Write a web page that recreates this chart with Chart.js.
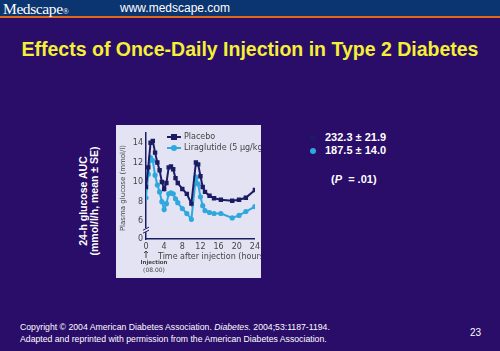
<!DOCTYPE html>
<html>
<head>
<meta charset="utf-8">
<script src="https://cdn.jsdelivr.net/npm/chart.js@4.4.1/dist/chart.umd.min.js"></script>
<style>
  body { margin: 0; width: 500px; height: 351px; background: #2a0c69; overflow: hidden; font-family: "Liberation Sans", Arial, sans-serif; }
  .topbar { position: absolute; left: 0; top: 0; width: 500px; height: 16px; background: #0b3571; }
  .orange { position: absolute; left: 0; top: 16px; width: 500px; height: 2px; background: #e06a1c; }
  .logo { position: absolute; left: 3px; top: 1px; color: #fff; font: 15.5px/15px "Liberation Serif", serif; letter-spacing: -0.4px; white-space: nowrap; }
  .logo span { font-size: 8px; }
  .url { position: absolute; left: 120px; top: 1px; color: #fff; font-size: 12px; }
  .title { position: absolute; left: 0; top: 38px; width: 500px; text-align: center; color: #f5f035; font-weight: bold; font-size: 19.5px; }
  .panel { position: absolute; left: 116px; top: 125px; width: 145px; height: 153px; background: #e3e3f3; }
  .panel canvas { position: absolute; left: 0; top: 0; }
  .stat { position: absolute; color: #fff; font-weight: bold; font-size: 11px; }
  .dot { position: absolute; width: 6px; height: 6px; border-radius: 3px; }
  .ylab { position: absolute; left: 89px; top: 201px; width: 140px; transform: translate(-50%, -50%) rotate(-90deg); color: #fff; font-weight: bold; font-size: 10.5px; line-height: 11px; text-align: center; }
  .foot { position: absolute; left: 20px; top: 322px; color: #fff; font-size: 8.7px; line-height: 11.5px; }
  .page { position: absolute; left: 470px; top: 327px; color: #fff; font-size: 10px; }
</style>
</head>
<body>
<div class="topbar"></div>
<div class="orange"></div>
<div class="logo">Medscape<span>®</span></div>
<div class="url">www.medscape.com</div>
<div class="title">Effects of Once-Daily Injection in Type 2 Diabetes</div>

<div class="ylab">24-h glucose AUC<br>(mmol/l/h, mean ± SE)</div>

<div class="panel"><canvas id="grafico" width="145" height="153"></canvas></div>

<div class="dot" style="left:310px; top:135px; background:#1c1c64;"></div>
<div class="stat" style="left:325px; top:131px;">232.3 ± 21.9</div>
<div class="dot" style="left:310px; top:148px; background:#2ea8de;"></div>
<div class="stat" style="left:325px; top:144px;">187.5 ± 14.0</div>
<div class="stat" style="left:331px; top:173px;">(<i>P</i> &nbsp;= .01)</div>

<div class="foot">Copyright © 2004 American Diabetes Association. <i>Diabetes.</i> 2004;53:1187-1194.<br>Adapted and reprinted with permission from the American Diabetes Association.</div>
<div class="page">23</div>

<script>
// Dados
const horas = [0, 0.5, 1, 1.5, 2, 2.5, 3, 3.5, 4, 4.5, 5, 5.5, 6, 6.5, 7, 8, 9, 10, 11, 11.5, 12, 12.5, 13, 14, 15, 16.5, 19, 20.5, 22, 24];
const placebo = [9.5, 11.5, 14.0, 14.2, 13.0, 12.0, 11.2, 10.0, 9.3, 9.9, 11.5, 11.6, 11.3, 10.4, 9.9, 9.3, 8.8, 7.8, 12.0, 11.8, 10.6, 9.5, 9.0, 8.6, 8.35, 8.2, 8.1, 8.2, 8.4, 9.2];
const liraglutide = [8.4, 10.8, 12.5, 12.2, 10.7, 9.7, 9.0, 8.0, 7.2, 7.8, 8.8, 8.9, 8.8, 8.3, 7.9, 7.3, 6.8, 6.2, 10.5, 9.8, 8.5, 7.6, 7.1, 6.9, 6.8, 6.8, 6.35, 6.6, 7.0, 7.5];
const yTicks = [4.2, 6, 8, 10, 12, 14];
const yTickLabels = ["0", "6", "8", "10", "12", "14"];
const xTicks = [0, 4, 8, 12, 16, 20, 24];

const corPlacebo = "#1c1c64";
const corLira = "#2ea8de";
const corTexto = "#444";

function pontos(ys) {
  return horas.map((h, i) => ({ x: h, y: ys[i] }));
}

// textos extra do gráfico: legenda, títulos dos eixos, quebra, injeção
const extras = {
  id: "extras",
  afterDraw(chart) {
    const c = chart.ctx;
    const x = chart.scales.x, y = chart.scales.y;
    c.save();
    // legenda
    [[corPlacebo, "Placebo", 12, "rect"], [corLira, "Liraglutide (5 μg/kg OD)", 23, "circle"]].forEach(l => {
      c.strokeStyle = l[0]; c.fillStyle = l[0]; c.lineWidth = 2;
      c.beginPath(); c.moveTo(51, l[2]); c.lineTo(65, l[2]); c.stroke();
      if (l[3] == "rect") c.fillRect(55, l[2] - 3, 6, 6);
      else { c.beginPath(); c.arc(58, l[2], 3, 0, Math.PI * 2); c.fill(); }
      c.fillStyle = corTexto; c.font = "8px 'DejaVu Sans'"; c.textBaseline = "middle";
      c.fillText(l[1], 68, l[2]);
    });
    // quebra do eixo y
    const xb = x.left, yb = y.getPixelForValue(5.1);
    c.strokeStyle = "#e3e3f3"; c.lineWidth = 3;
    c.beginPath(); c.moveTo(xb, yb - 2); c.lineTo(xb, yb + 2); c.stroke();
    c.strokeStyle = corPlacebo; c.lineWidth = 1;
    c.beginPath(); c.moveTo(xb - 3, yb); c.lineTo(xb + 3, yb - 3); c.moveTo(xb - 3, yb + 3); c.lineTo(xb + 3, yb); c.stroke();
    // título eixo y
    c.fillStyle = corTexto; c.font = "7px 'DejaVu Sans'"; c.textAlign = "center"; c.textBaseline = "middle";
    c.translate(7, (y.top + y.bottom) / 2 + 2);
    c.rotate(-Math.PI / 2);
    c.fillText("Plasma glucose (mmol/l)", 0, 0);
    c.restore();
    c.save();
    // título eixo x
    c.fillStyle = corTexto; c.font = "8px 'DejaVu Sans'"; c.textBaseline = "middle";
    c.fillText("Time after injection (hours)", 42, 132);
    // seta da injeção
    const xi = x.getPixelForValue(0);
    c.strokeStyle = corTexto; c.lineWidth = 1;
    c.beginPath(); c.moveTo(xi, 126); c.lineTo(xi, 133); c.moveTo(xi - 2, 128); c.lineTo(xi, 126); c.lineTo(xi + 2, 128); c.stroke();
    c.font = "bold 5.5px 'DejaVu Sans'"; c.textAlign = "center";
    c.fillText("Injection", xi + 8, 138);
    c.font = "6px 'DejaVu Sans'";
    c.fillText("(08.00)", xi + 8, 145);
    c.restore();
  }
};

new Chart(document.getElementById("grafico"), {
  type: "line",
  data: {
    datasets: [
      { label: "Placebo", data: pontos(placebo), borderColor: corPlacebo, backgroundColor: corPlacebo,
        borderWidth: 2, pointStyle: "rect", pointRadius: 1.7, tension: 0 },
      { label: "Liraglutide (5 μg/kg OD)", data: pontos(liraglutide), borderColor: corLira, backgroundColor: corLira,
        borderWidth: 2, pointStyle: "circle", pointRadius: 1.6, tension: 0 }
    ]
  },
  options: {
    responsive: false,
    animation: false,
    layout: { padding: { left: 0, top: 8, right: 6, bottom: 0 } },
    plugins: { legend: { display: false }, tooltip: { enabled: false } },
    scales: {
      x: {
        type: "linear", min: 0, max: 24,
        afterBuildTicks: s => { s.ticks = xTicks.map(v => ({ value: v })); },
        afterFit: s => { s.height = 39; },
        grid: { display: false, drawTicks: true, tickLength: 2 },
        border: { color: corPlacebo, width: 1.5 },
        ticks: { color: corTexto, font: { size: 8, family: "DejaVu Sans" }, padding: 1, maxRotation: 0 }
      },
      y: {
        min: 4.2, max: 15,
        afterBuildTicks: s => { s.ticks = yTicks.map(v => ({ value: v })); },
        afterFit: s => { s.width = 30; },
        grid: { display: false, tickLength: 2 },
        border: { color: corPlacebo, width: 1.5 },
        ticks: { color: corTexto, font: { size: 8, family: "DejaVu Sans" }, padding: 1,
          callback: (v) => yTickLabels[yTicks.indexOf(v)] }
      }
    }
  },
  plugins: [extras]
});
</script>
</body>
</html>
